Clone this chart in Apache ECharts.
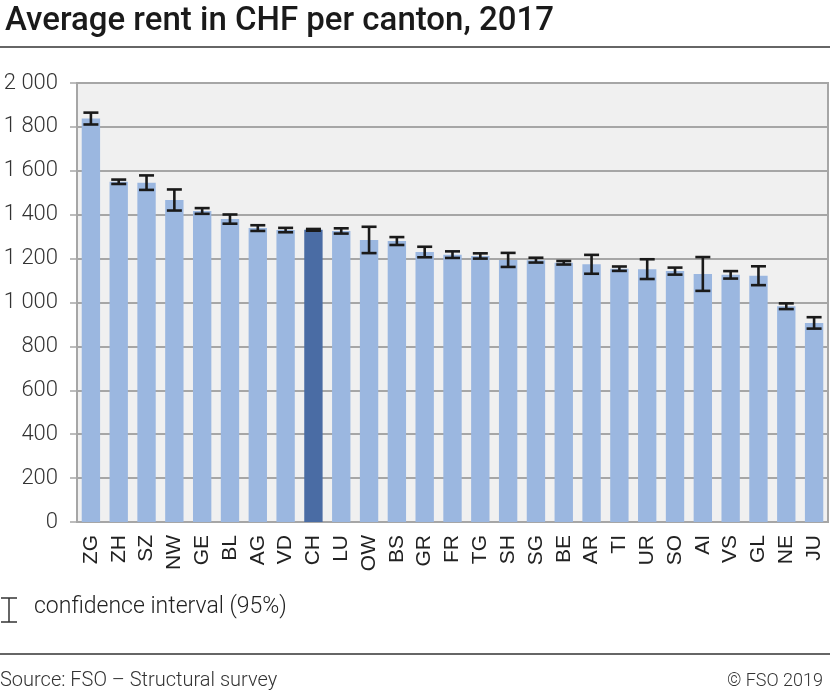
<!DOCTYPE html>
<html><head><meta charset="utf-8">
<script src="https://cdn.jsdelivr.net/npm/echarts@6/dist/echarts.min.js"></script>
<style>html,body{margin:0;padding:0;background:#fff}#c{width:830px;height:693px}</style>
</head><body><div id="c"></div>
<script>
const cantons = ['ZG','ZH','SZ','NW','GE','BL','AG','VD','CH','LU','OW','BS','GR','FR','TG','SH','SG','BE','AR','TI','UR','SO','AI','VS','GL','NE','JU'];
const rent    = [1838,1550,1546,1467,1417,1380,1339,1330,1331,1326,1285,1280,1230,1218,1212,1194,1193,1181,1174,1154,1152,1143,1130,1126,1122,983,907];
const ciHalf  = [27,10,33,48,13,21,13,10,4,12,60,18,24,15,12,32,11,8,43,10,45,16,77,17,43,13,26];
const yTicks  = [0,200,400,600,800,1000,1200,1400,1600,1800,2000];

const chart = echarts.init(document.getElementById('c'), null, {renderer:'canvas'});
const barData = rent.map((v,i)=>({value:v, itemStyle:{color: cantons[i]==='CH' ? '#4a6ca4' : '#9bb7e0'}}));
const errData = rent.map((v,i)=>[i, v-ciHalf[i], v+ciHalf[i]]);
const fmt = v => { const s=String(v); return s.length>3 ? s.slice(0,s.length-3)+' '+s.slice(-3) : s; };

chart.setOption({
  animation:false,
  title:{text:'Average rent in CHF per canton, 2017', left:0, top:0,
    textStyle:{fontFamily:'Roboto', fontWeight:500, fontSize:33, color:'#1a1a1a'}},
  grid:{left:77, right:2, top:83, bottom:171, backgroundColor:'#f0f0f0', show:true, borderWidth:2, borderColor:'#a6a6a6'},
  xAxis:{type:'category', data:cantons,
    axisLine:{lineStyle:{color:'#a6a6a6', width:2}}, axisTick:{show:false},
    axisLabel:{rotate:90, fontFamily:'Liberation Sans', fontSize:21, color:'#222', margin:13}},
  yAxis:{type:'value', min:0, max:2000, interval:200,
    axisLine:{show:true, lineStyle:{color:'#a6a6a6', width:2}},
    axisTick:{show:true, length:7, lineStyle:{color:'#a6a6a6', width:1.5}},
    splitLine:{lineStyle:{color:'#a6a6a6', width:2}},
    axisLabel:{formatter:fmt, fontFamily:'Roboto', fontWeight:300, fontSize:22, color:'#333', margin:19}},
  series:[
    {type:'bar', data:barData, barWidth:'66%'},
    {type:'custom', data:errData, z:5,
      renderItem:function(params, api){
        const x = api.value(0);
        const lo = api.coord([x, api.value(1)]);
        const hi = api.coord([x, api.value(2)]);
        const hw = 7.5;
        const st = {stroke:'#1a1a1a', lineWidth:2.6};
        return {type:'group', children:[
          {type:'line', shape:{x1:lo[0], y1:lo[1], x2:hi[0], y2:hi[1]}, style:st},
          {type:'line', shape:{x1:lo[0]-hw, y1:lo[1], x2:lo[0]+hw, y2:lo[1]}, style:st},
          {type:'line', shape:{x1:hi[0]-hw, y1:hi[1], x2:hi[0]+hw, y2:hi[1]}, style:st}
        ]};
      }}
  ],
  graphic:[
    {type:'line', shape:{x1:0,y1:47,x2:830,y2:47}, style:{stroke:'#333', lineWidth:1.5}},
    {type:'line', shape:{x1:0,y1:654,x2:830,y2:654}, style:{stroke:'#333', lineWidth:1.5}},
    {type:'line', shape:{x1:9,y1:598,x2:9,y2:622}, style:{stroke:'#333', lineWidth:1.5}},
    {type:'line', shape:{x1:1,y1:598,x2:17,y2:598}, style:{stroke:'#333', lineWidth:1.5}},
    {type:'line', shape:{x1:1,y1:622,x2:17,y2:622}, style:{stroke:'#333', lineWidth:1.5}},
    {type:'text', left:34, top:596, style:{text:'confidence interval (95%)', font:'300 23px Roboto', fill:'#222'}},
    {type:'text', left:0, top:671, style:{text:'Source: FSO – Structural survey', font:'300 20px Roboto', fill:'#333'}},
    {type:'text', right:7, top:672, style:{text:'© FSO 2019', font:'300 18px Roboto', fill:'#333'}}
  ]
});
</script></body></html>
